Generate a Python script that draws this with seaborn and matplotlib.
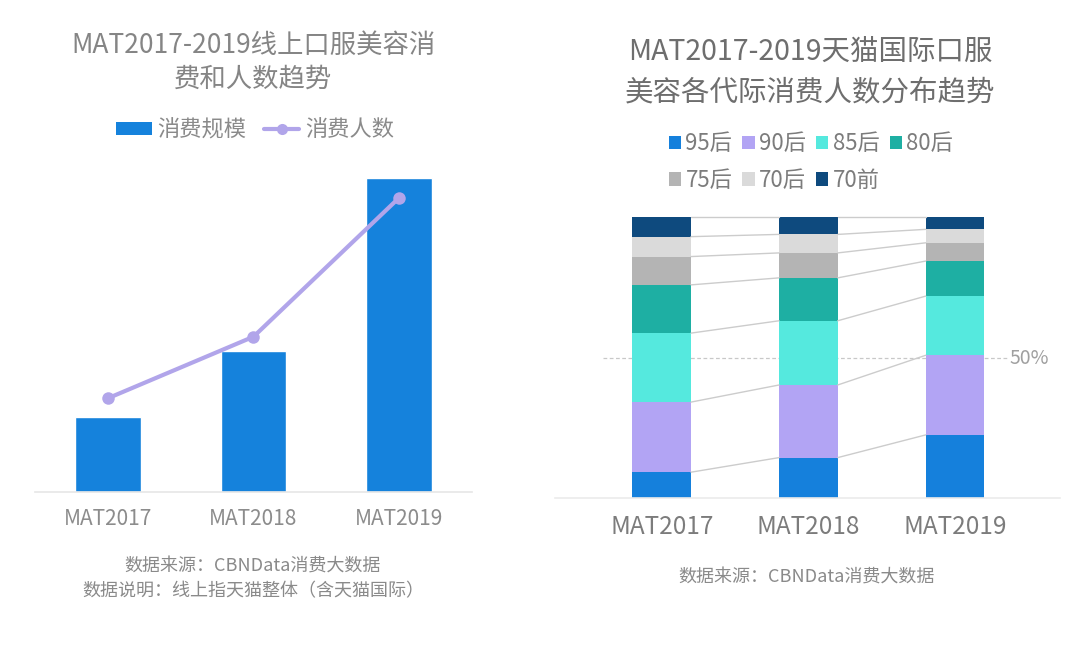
import matplotlib
matplotlib.use("Agg")
import matplotlib.pyplot as plt
from matplotlib.patches import Patch
from matplotlib.lines import Line2D
import seaborn as sns
import pandas as pd
import numpy as np

# ---------------- data ----------------
years = ["MAT2017", "MAT2018", "MAT2019"]
spend_scale = [75.6, 141.3, 314.0]      # 消费规模 (relative index)
spend_users = [94.0, 155.6, 294.6]      # 消费人数 (relative index)

generations = ["95后", "90后", "85后", "80后", "75后", "70后", "70前"]
share_2017 = [9.1, 25.0, 24.6, 17.2, 10.1, 7.1, 6.9]
share_2018 = [14.3, 25.9, 22.9, 15.3, 8.9, 6.6, 6.1]
share_2019 = [22.4, 28.4, 21.1, 12.5, 6.5, 4.8, 4.3]
gen_colors = ["#1580dc", "#b2a4f4", "#55e9de", "#1eafa3", "#b4b4b4", "#dadada", "#0e4a7e"]

left_title = "MAT2017-2019线上口服美容消\n费和人数趋势"
right_title = "MAT2017-2019天猫国际口服\n美容各代际消费人数分布趋势"
left_note = "数据来源：CBNData消费大数据\n数据说明：线上指天猫整体（含天猫国际）"
right_note = "数据来源：CBNData消费大数据"

# ---------------- style ----------------
sns.set_theme(style="white")
plt.rcParams['font.family'] = ['Noto Sans CJK SC', 'DejaVu Sans']

W, H = 1080, 669
fig = plt.figure(figsize=(10.8, 6.69), dpi=100)
fig.patch.set_facecolor("white")


def ax_rect(x0, x1, ybot, ytop):
    return [x0 / W, 1 - ybot / H, (x1 - x0) / W, (ybot - ytop) / H]


def fx(x):
    return x / W


def fy(y):
    return 1 - y / H


# ---------------- left panel ----------------
ax1 = fig.add_axes(ax_rect(35, 472, 492.3, 162.3))
df1 = pd.DataFrame({"year": years, "scale": spend_scale, "users": spend_users})
sns.barplot(data=df1, x="year", y="scale", color="#1582dc", width=0.453,
            saturation=1, ax=ax1)
sns.lineplot(x=np.arange(len(years)), y=spend_users, color="#b1a5ea", lw=3,
             marker="o", markersize=9, markeredgewidth=0, ax=ax1)
ax1.set_xlim(-0.5, 2.5)
ax1.set_ylim(0, 330)
ax1.set_xlabel("")
ax1.set_ylabel("")
ax1.set_yticks([])
for s in ["top", "left", "right"]:
    ax1.spines[s].set_visible(False)
ax1.spines["bottom"].set_color("#e6e6e6")
ax1.spines["bottom"].set_linewidth(1.2)
ax1.tick_params(axis="x", length=0, pad=11, labelsize=15, labelcolor="#8c8c8c")

fig.text(fx(253), fy(62), left_title, ha="center", va="center", fontsize=19,
         color="#858585", linespacing=1.32)

h_bar = Patch(facecolor="#1582dc", edgecolor="none")
h_line = Line2D([0], [0], color="#b1a5ea", lw=3, marker="o", markersize=8,
                markeredgewidth=0)
fig.legend([h_bar, h_line], ["消费规模", "消费人数"], loc="center",
           bbox_to_anchor=(fx(255), fy(130)), ncol=2, frameon=False,
           fontsize=16, labelcolor="#8a8a8a", handlelength=1.6,
           handleheight=0.5, handletextpad=0.25, columnspacing=0.8)

fig.text(fx(253), fy(579), left_note, ha="center", va="center", fontsize=13,
         color="#8a8a8a", linespacing=1.45)

# ---------------- right panel ----------------
ax2 = fig.add_axes(ax_rect(555, 1060, 497.7, 217.3))
shares = np.array([share_2017, share_2018, share_2019])
cum = np.cumsum(shares, axis=1)
bw = 0.4
for k in range(len(generations) - 1, -1, -1):
    sns.barplot(x=years, y=cum[:, k], color=gen_colors[k], width=bw,
                saturation=1, linewidth=0, ax=ax2)
# connecting lines between segment boundaries
for k in range(len(generations)):
    for i in range(len(years) - 1):
        ax2.plot([i + bw / 2, i + 1 - bw / 2], [cum[i, k], cum[i + 1, k]],
                 color="#cccccc", lw=1, zorder=1, clip_on=False)
x_left = (555 - 661.7) / 146.7
x_right = (1060 - 661.7) / 146.7
ax2.set_xlim(x_left, x_right)
ax2.set_ylim(0, 100)
ax2.plot([(603 - 661.7) / 146.7, (1008 - 661.7) / 146.7], [50, 50],
         ls=(0, (3, 2)), color="#c8c8c8", lw=0.9, zorder=0.5, clip_on=False)
ax2.text((1010 - 661.7) / 146.7, 49.5, "50%", ha="left", va="center",
         fontsize=14, color="#a0a0a0")
ax2.set_xlabel("")
ax2.set_ylabel("")
ax2.set_yticks([])
for s in ["top", "left", "right"]:
    ax2.spines[s].set_visible(False)
ax2.spines["bottom"].set_color("#ebebeb")
ax2.spines["bottom"].set_linewidth(1.2)
ax2.tick_params(axis="x", length=0, pad=12, labelsize=17.5, labelcolor="#7c7c7c")

fig.text(fx(810), fy(72), right_title, ha="center", va="center", fontsize=20.5,
         color="#6e6e6e", linespacing=1.45)

order = [0, 4, 1, 5, 2, 6, 3]
handles = [Patch(facecolor=gen_colors[k], edgecolor="none") for k in order]
labels = [generations[k] for k in order]
fig.legend(handles, labels, loc="center", bbox_to_anchor=(fx(811), fy(162)),
           ncol=4, frameon=False, fontsize=16, labelcolor="#7c7c7c",
           handlelength=0.55, handleheight=0.55, handletextpad=0.2,
           columnspacing=0.45, labelspacing=0.6)

fig.text(fx(807), fy(578), right_note, ha="center", va="center", fontsize=13,
         color="#8a8a8a")

fig.savefig("out.png", dpi=100, facecolor="white")
